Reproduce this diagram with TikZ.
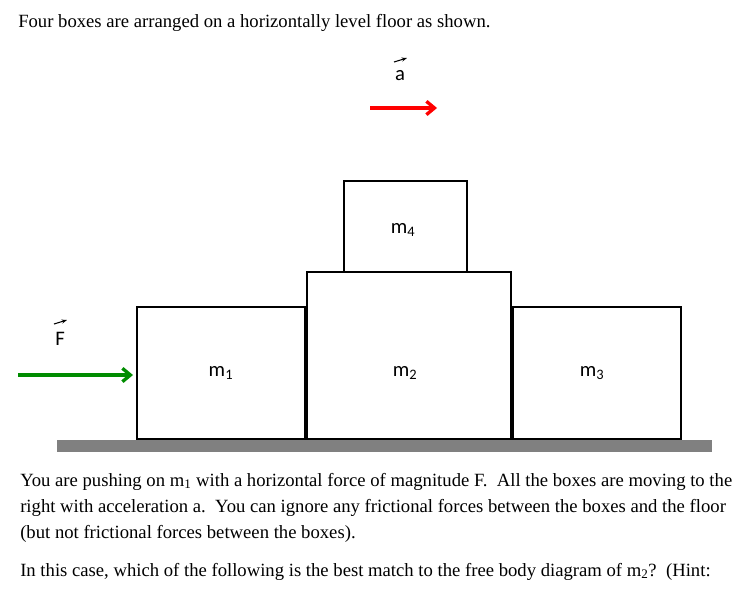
\documentclass[tikz,border=0pt]{standalone}
\usepackage{fontspec}
\setmainfont{Liberation Serif}
\newfontfamily\calib{Carlito}
\usetikzlibrary{arrows.meta}
\begin{document}
\begin{tikzpicture}[x=0.75pt,y=-0.75pt,
  box/.style={draw,line width=0.9pt},
  lab/.style={font=\calib\fontsize{15.5}{17}\selectfont},
  txt/.style={anchor=base west,inner sep=0pt,font=\fontsize{14}{16}\selectfont},
  vec/.style={-{Stealth[length=4pt]},line width=0.8pt}]
\useasboundingbox (0,0) rectangle (739,592);
\fill[gray] (57,440) rectangle (712,452);
\draw[box] (137,307) rectangle (305,439);
\draw[box] (307,272) rectangle (511,439);
\draw[box] (513,307) rectangle (681,439);
\draw[box] (344,181) rectangle (467,272);
\node[lab] (m1) at (221,373) {m\textsubscript{1}};
\node[lab] (m2) at (405,373) {m\textsubscript{2}};
\node[lab] (m3) at (592,373) {m\textsubscript{3}};
\node[lab] (m4) at (403,230) {m\textsubscript{4}};
\coordinate (fs) at (18,375);
\coordinate (fe) at (133,375);
\draw[line width=2.5pt,green!55!black,-{Straight Barb[length=6pt,width=10pt]}] (fs) -- (fe);
\node[lab] (F) at (60,339) {F};
\draw[vec] (54,324) -- (67,320);
\coordinate (as) at (370,108);
\coordinate (ae) at (437,108);
\draw[line width=2.5pt,red,-{Straight Barb[length=6pt,width=10pt]}] (as) -- (ae);
\node[lab] (a) at (400,76) {a};
\draw[vec] (394,62) -- (407,58);
\node[txt] (t0) at (18,28) {Four boxes are arranged on a horizontally level floor as shown.};
\node[txt] (t1) at (20,486) {You are pushing on m\textsubscript{1} with a horizontal force of magnitude F.\ \ All the boxes are moving to the};
\node[txt] (t2) at (20,512) {right with acceleration a.\ \ You can ignore any frictional forces between the boxes and the floor};
\node[txt] (t3) at (20,538) {(but not frictional forces between the boxes).};
\node[txt] (t4) at (20,576) {In this case, which of the following is the best match to the free body diagram of m\textsubscript{2}?\ \ (Hint:};
\end{tikzpicture}
\end{document}
